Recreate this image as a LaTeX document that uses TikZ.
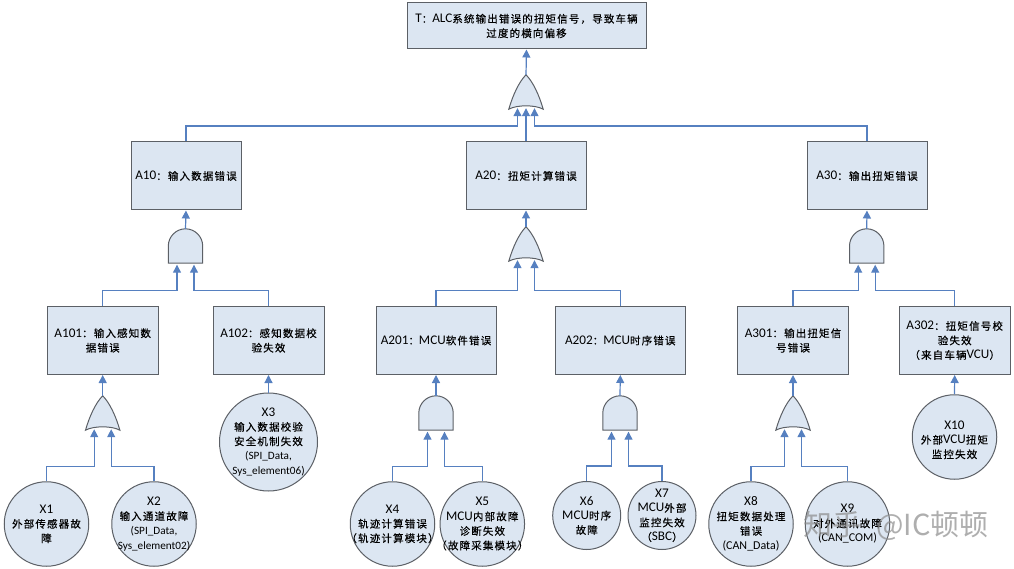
\documentclass[tikz,border=0pt]{standalone}
\usepackage{fontspec}
\setmainfont{Carlito}
\newfontfamily\cjk[LetterSpace=11,FakeBold=0.25]{Noto Sans CJK SC}
\newfontfamily\markfont{Noto Sans CJK SC}
\usetikzlibrary{arrows.meta,calc}
\newcommand{\zh}[1]{{\cjk\fontsize{10.5}{14.5}\selectfont #1}}
\newcommand{\sm}[1]{{\fontsize{11.2}{14.5}\selectfont #1}}
\newcommand{\md}[1]{{\fontsize{12}{14.5}\selectfont #1}}

\tikzset{
  evt/.style={rectangle,draw=edge,fill=paper,line width=1pt,inner sep=1pt,align=center,
    font=\fontsize{13.2}{14.5}\selectfont},
  basic/.style={evt,circle,inner sep=-14pt,minimum size=#1},
  gate/.style={rectangle,inner sep=0pt,minimum width=34pt,minimum height=34pt},
  gateline/.style={draw=edge,fill=paper,line width=1pt,line join=miter},
  link/.style={draw=wire,line width=1.2pt},
  feed/.style={link,-{Triangle[length=8pt,width=8pt]}},
}
\definecolor{edge}{HTML}{5C6066}
\definecolor{paper}{HTML}{DCE6F2}
\definecolor{wire}{HTML}{5680C0}

% name, x, y of centre
\newcommand{\andgate}[3]{
  \node[gate] (#1) at (#2,#3) {};
  \draw[gateline] (#1.south west) -- (#1.south east) -- (#1.east)
    .. controls ([yshift=9.4pt]#1.east) and ([xshift=9.4pt]#1.north) .. (#1.north)
    .. controls ([xshift=-9.4pt]#1.north) and ([yshift=9.4pt]#1.west) .. (#1.west) -- cycle;
  \coordinate (#1-l) at ([xshift=-8.5pt,yshift=-1.5pt]#1.south);
  \coordinate (#1-r) at ([xshift=8.5pt,yshift=-1.5pt]#1.south);
}
\newcommand{\orgate}[3]{
  \node[gate] (#1) at (#2,#3) {};
  \draw[gateline] (#1.south west)
    .. controls ([xshift=4pt,yshift=14pt]#1.south west) and ([xshift=-7pt,yshift=-7pt]#1.north) .. (#1.north)
    .. controls ([xshift=7pt,yshift=-7pt]#1.north) and ([xshift=-4pt,yshift=14pt]#1.south east) .. (#1.south east)
    .. controls ([xshift=-8pt,yshift=4.5pt]#1.south east) and ([xshift=8pt,yshift=4.5pt]#1.south west) .. (#1.south west) -- cycle;
  \coordinate (#1-l) at ([xshift=-8.5pt,yshift=1pt]#1.south);
  \coordinate (#1-m) at ([yshift=1pt]#1.south);
  \coordinate (#1-r) at ([xshift=8.5pt,yshift=1pt]#1.south);
}

\begin{document}
\begin{tikzpicture}[x=1pt,y=-1pt]
\useasboundingbox (0,0) rectangle (1014,569);

%%%%%%%%%%%%%%%%%%%%%% TOP
\node[evt,minimum width=239pt,minimum height=46pt] (T) at (526.5,26) {T\zh{：}ALC\zh{系统输出错误的扭矩信号，导致车辆}\\\zh{过度的横向偏移}};
\orgate{G0}{526}{92}

\node[evt,minimum width=110pt,minimum height=68pt] (A10) at (186,176) {A10\zh{：输入数据错误}};
\node[evt,minimum width=120pt,minimum height=68pt] (A20) at (526,176) {A20\zh{：扭矩计算错误}};
\node[evt,minimum width=120pt,minimum height=68pt] (A30) at (867,176) {A30\zh{：输出扭矩错误}};

\andgate{G1}{185.5}{246}
\orgate{G2}{526}{244}
\andgate{G3}{866.7}{246}

%%%%%%%%%%%%%%%%%%%%%% SECOND ROW
\node[evt,minimum width=111pt,minimum height=68pt] (A101) at (102.7,340.5) {A101\zh{：输入感知数}\\\zh{据错误}};
\node[evt,minimum width=111pt,minimum height=68pt] (A102) at (268.5,340.5) {A102\zh{：感知数据校}\\\zh{验失效}};
\node[evt,minimum width=120pt,minimum height=68pt] (A201) at (436,340.5) {A201\zh{：}MCU\zh{软件错误}};
\node[evt,minimum width=130pt,minimum height=68pt] (A202) at (620.3,340.5) {A202\zh{：}MCU\zh{时序错误}};
\node[evt,minimum width=111pt,minimum height=68pt] (A301) at (793,340.5) {A301\zh{：输出扭矩信}\\\zh{号错误}};
\node[evt,minimum width=111pt,minimum height=68pt] (A302) at (954.7,340.5) {A302\zh{：扭矩信号校}\\\zh{验失效}\\\zh{（来自车辆}VCU\zh{）}};

\orgate{G4}{102.7}{413}
\andgate{G5}{436}{413}
\andgate{G6}{620}{413}
\orgate{G7}{793}{413}

%%%%%%%%%%%%%%%%%%%%%% BASIC EVENTS
\node[basic=84.5pt] (X1) at (46.5,524) {X1\\\zh{外部传感器故}\\\zh{障}};
\node[basic=84.5pt] (X2) at (154,524) {X2\\\zh{输入通道故障}\\\sm{(SPI\_Data,}\\\sm{Sys\_element02)}};
\node[basic=98pt] (X3) at (268.5,442) {X3\\\zh{输入数据校验}\\\zh{安全机制失效}\\\sm{(SPI\_Data,}\\\sm{Sys\_element06)}};
\node[basic=84.5pt] (X4) at (392.5,524) {X4\\\zh{轨迹计算错误}\\\zh{（轨迹计算模块）}};
\node[basic=84.5pt] (X5) at (482.3,524) {X5\\MCU\zh{内部故障}\\\zh{诊断失效}\\\zh{（故障采集模块）}};
\node[basic=68pt] (X6) at (586.7,515.5) {X6\\MCU\zh{时序}\\\zh{故障}};
\node[basic=68pt] (X7) at (662,515.5) {X7\\MCU\zh{外部}\\\zh{监控失效}\\\zh{（}SBC\zh{）}};
\node[basic=84.5pt] (X8) at (751,524) {X8\\\zh{扭矩数据处理}\\\zh{错误}\\\md{(CAN\_Data)}};
\node[basic=84.5pt] (X9) at (847.5,524) {X9\\\zh{对外通讯故障}\\\md{(CAN\_COM)}};
\node[basic=84.5pt] (X10) at (954.5,437) {\ \\X10\\\zh{外部}VCU\zh{扭矩}\\\zh{监控失效}};

%%%%%%%%%%%%%%%%%%%%%% CONNECTORS
\draw[feed] (G0.north) -- (T.south);
\draw[feed] (A10.north) -- ++(0,15.5pt) -| (G0-l);
\draw[feed] (A20.north) -- (G0-m);
\draw[feed] (A30.north) -- ++(0,15.5pt) -| (G0-r);

\draw[feed] (G1.north) -- (A10.south);
\draw[feed] (G2.north) -- (A20.south);
\draw[feed] (G3.north) -- (A30.south);

\draw[feed] (A101.north) -- ++(0,15.5pt) -| (G1-l);
\draw[feed] (A102.north) -- ++(0,15.5pt) -| (G1-r);
\draw[feed] (A201.north) -- ++(0,15.5pt) -| (G2-l);
\draw[feed] (A202.north) -- ++(0,15.5pt) -| (G2-r);
\draw[feed] (A301.north) -- ++(0,15.5pt) -| (G3-l);
\draw[feed] (A302.north) -- ++(0,15.5pt) -| (G3-r);

\draw[feed] (G4.north) -- (A101.south);
\draw[feed] (X3.north) -- (A102.south);
\draw[feed] (G5.north) -- (A201.south);
\draw[feed] (G6.north) -- (A202.south);
\draw[feed] (G7.north) -- (A301.south);
\draw[feed] (X10.north) -- (A302.south);

\draw[feed] (X1.north) -- ++(0,15pt) -| (G4-l);
\draw[feed] (X2.north) -- ++(0,15pt) -| (G4-r);
\draw[feed] (X4.north) -- ++(0,15pt) -| (G5-l);
\draw[feed] (X5.north) -- ++(0,15pt) -| (G5-r);
\draw[feed] (X6.north) -- ++(0,15pt) -| (G6-l);
\draw[feed] (X7.north) -- ++(0,15pt) -| (G6-r);
\draw[feed] (X8.north) -- ++(0,15pt) -| (G7-l);
\draw[feed] (X9.north) -- ++(0,15pt) -| (G7-r);

% watermark
\node[anchor=west,inner sep=0pt,text=black!45,opacity=.7,font=\markfont\fontsize{29}{30}\selectfont] (mark) at (803,526) {知乎\hspace{15pt}@IC顿顿};
\end{tikzpicture}
\end{document}
